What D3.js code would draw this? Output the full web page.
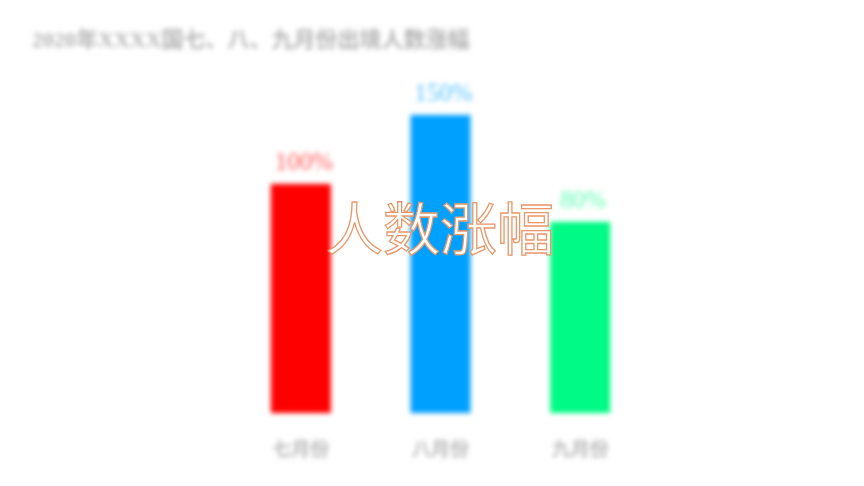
<!DOCTYPE html>
<html><head><meta charset="utf-8">
<script src="https://cdn.jsdelivr.net/npm/d3@7"></script>
<style>html,body{margin:0;padding:0;background:#fff;overflow:hidden}</style>
</head><body>
<svg id="c" width="864" height="486"></svg>
<script>
const titleText = "2020年XXXX国七、八、九月份出境人数涨幅";
const overlayText = "人数涨幅";
const categories = ["七月份", "八月份", "九月份"];
const values = [100, 150, 80];
const valueLabels = ["100%", "150%", "80%"];
const colors = ["#ff0000", "#00a0ff", "#00fa86"];

const svg = d3.select("#c");
const defs = svg.append("defs");
defs.append("filter").attr("id","blur")
  .attr("filterUnits","userSpaceOnUse")
  .attr("x",-20).attr("y",-20).attr("width",904).attr("height",526)
  .append("feGaussianBlur").attr("stdDeviation",2.8);

const g = svg.append("g").attr("filter","url(#blur)");

const x = d3.scaleBand().domain(categories).range([231, 650]).paddingInner(0.57).paddingOuter(0.285);
const y = d3.scaleLog().domain([26, 150]).range([413, 115]);

g.append("text").attr("x",32).attr("y",47)
  .attr("font-family","'Liberation Serif','DejaVu Serif','Noto Sans CJK SC',serif")
  .attr("font-size",22).attr("font-weight","bold").attr("fill","#b4b4b4")
  .text(titleText);

g.selectAll("rect.bar").data(values).join("rect").attr("class","bar")
  .attr("x",(d,i)=>x(categories[i]))
  .attr("width",x.bandwidth())
  .attr("y",d=>y(d))
  .attr("height",d=>y.range()[0]-y(d))
  .attr("fill",(d,i)=>colors[i]);

g.selectAll("text.val").data(values).join("text").attr("class","val")
  .attr("x",(d,i)=>x(categories[i])+x.bandwidth()/2+3)
  .attr("y",d=>y(d)-14)
  .attr("text-anchor","middle")
  .attr("font-family","'Liberation Serif','DejaVu Serif',serif")
  .attr("font-size",25)
  .attr("fill",(d,i)=>colors[i])
  .attr("fill-opacity",0.65)
  .text((d,i)=>valueLabels[i]);

const xAxis = d3.axisBottom(x).tickSize(0).tickPadding(0);
const ax = g.append("g").attr("transform","translate(0,443)").call(xAxis);
ax.select(".domain").remove();
ax.selectAll("text")
  .attr("font-family","'Noto Sans CJK SC',sans-serif")
  .attr("font-size",19).attr("font-weight","bold")
  .attr("fill","#b8b8b8").attr("dy","0.7em");

svg.append("text").attr("x",440).attr("y",250)
  .attr("text-anchor","middle")
  .attr("font-family","'Noto Sans CJK SC',sans-serif")
  .attr("font-size",57)
  .attr("fill","#ffffff").attr("stroke","#e8986a").attr("stroke-width",1.3)
  .text(overlayText);
</script>
</body></html>
